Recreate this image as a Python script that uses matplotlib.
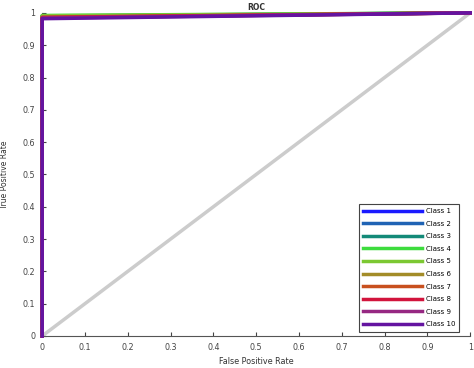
import matplotlib
matplotlib.use('Agg')
import matplotlib.pyplot as plt

# ROC data per class: (FPR, TPR)
classes = ['Class 1', 'Class 2', 'Class 3', 'Class 4', 'Class 5',
           'Class 6', 'Class 7', 'Class 8', 'Class 9', 'Class 10']
fpr = [0, 0, 1]
tpr_at_zero = [0.990, 0.988, 0.989, 0.992, 0.991, 0.987, 0.985, 0.986, 0.984, 0.982]
colors = ['#1a1aff', '#1f63b4', '#138a78', '#3ddc3d', '#7cc832',
          '#a38c28', '#c8501e', '#d2143c', '#962882', '#6414a0']
diag = [0, 1]
ticks = [0, 0.1, 0.2, 0.3, 0.4, 0.5, 0.6, 0.7, 0.8, 0.9, 1]
tick_labels = ['0', '0.1', '0.2', '0.3', '0.4', '0.5', '0.6', '0.7', '0.8', '0.9', '1']

fig = plt.figure(figsize=(4.74, 3.68), dpi=100)
ax = fig.add_axes([0.089, 0.087, 0.903, 0.878])

ax.plot(diag, diag, color='#cccccc', lw=2.5, zorder=1)
for name, t, c in zip(classes, tpr_at_zero, colors):
    ax.plot(fpr, [0, t, 1], color=c, lw=2.5, label=name, zorder=3, clip_on=False)

ax.set_xlim(0, 1)
ax.set_ylim(0, 1)
ax.set_xticks(ticks)
ax.set_yticks(ticks)
ax.set_xticklabels(tick_labels)
ax.set_yticklabels(tick_labels)
ax.tick_params(direction='in', length=3, labelsize=5.8, colors='#444444', pad=5)
for s in ['top', 'right']:
    ax.spines[s].set_visible(False)
for s in ['left', 'bottom']:
    ax.spines[s].set_color('#555555')
    ax.spines[s].set_linewidth(0.8)

ax.set_xlabel('False Positive Rate', fontsize=5.8, color='#333333', labelpad=4)
ax.set_ylabel('True Positive Rate', fontsize=5.5, color='#333333', labelpad=10)
ax.set_title('ROC', fontsize=5.5, fontweight='bold', color='#333333', pad=2)

leg = ax.legend(loc='lower right', bbox_to_anchor=(0.983, 0.003), fontsize=5,
                handlelength=8.5, labelspacing=0.95, borderpad=0.6, handletextpad=0.5,
                fancybox=False, edgecolor='#444444', framealpha=1)
leg.get_frame().set_linewidth(0.8)

fig.savefig('out.png', dpi=100)
